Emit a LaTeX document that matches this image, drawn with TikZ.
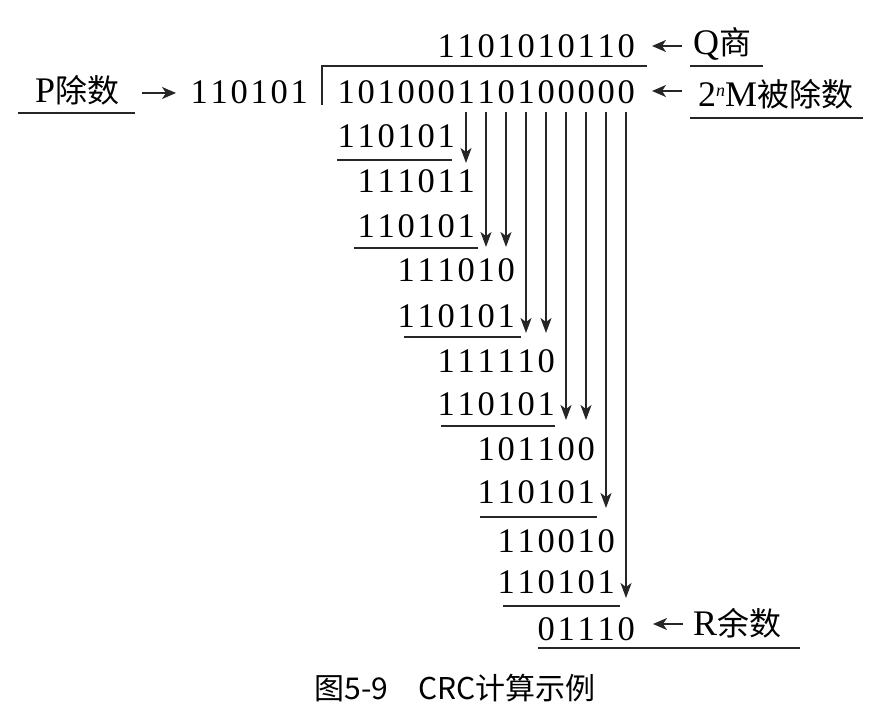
\documentclass[tikz,border=0pt]{standalone}
\usepackage{fontspec}
\setmainfont{Liberation Serif}
\newfontfamily\cjk{Noto Sans CJK SC}
\usetikzlibrary{arrows.meta}
\def\dg#1{\ifx#1\relax\else\makebox[20pt]{#1}\expandafter\dg\fi}
\newcommand\digrow[1]{\dg #1\relax}
\tikzset{
  num/.style={inner sep=0pt, anchor=base west, font=\fontsize{34.5}{34.5}\selectfont},
  lab/.style={inner sep=0pt, anchor=base west, font=\fontsize{36}{36}\selectfont},
  uline/.style={line width=1.6pt, color=black!85},
  varr/.style={line width=1.4pt, color=black!85, -{Stealth[length=15pt,width=11pt,inset=4pt]}},
  harr/.style={line width=1.8pt, color=black!85, -{Stealth[length=14pt,width=12pt,inset=4pt]}},
}
\newcommand\cj[1]{{\cjk\fontsize{32}{32}\selectfont #1}}
\begin{document}
\begin{tikzpicture}[x=1pt,y=-1pt]
\useasboundingbox (0,0) rectangle (889,719);
% quotient, dividend, divisor
\node[num] (q)  at (436,58)  {\digrow{1101010110}};
\node[num] (dd) at (336,104) {\digrow{101000110100000}};
\node[num] (dv) at (189,104) {\digrow{110101}};
% division bracket
\draw[uline] (322,105) -- (322,66) -- (647,66);
% rows
\node[num] (r1)  at (336,148) {\digrow{110101}};
\node[num] (r2)  at (356,193) {\digrow{111011}};
\node[num] (r3)  at (356,238) {\digrow{110101}};
\node[num] (r4)  at (396,282) {\digrow{111010}};
\node[num] (r5)  at (396,327) {\digrow{110101}};
\node[num] (r6)  at (436,372) {\digrow{111110}};
\node[num] (r7)  at (436,415) {\digrow{110101}};
\node[num] (r8)  at (476,460) {\digrow{101100}};
\node[num] (r9)  at (476,503) {\digrow{110101}};
\node[num] (r10) at (496,552) {\digrow{110010}};
\node[num] (r11) at (496,593) {\digrow{110101}};
\node[num] (r12) at (536,640) {\digrow{01110}};
% underlines
\draw[uline] (337,160) -- (452,160);
\draw[uline] (354,248) -- (478,248);
\draw[uline] (404,337) -- (521,337);
\draw[uline] (441,426) -- (555,426);
\draw[uline] (480,517) -- (597,517);
\draw[uline] (503,606) -- (620,606);
\draw[uline] (538,648) -- (800,648);
% vertical bring-down arrows
\foreach \k/\e in {7/163,8/247,9/247,10/333,11/333,12/420,13/420,14/508,15/598}{
  \coordinate (s\k) at ({326+20*\k},112);
  \coordinate (e\k) at ({326+20*\k},\e);
  \draw[varr] (s\k) -- (e\k);
}
% labels
\node[lab] (Q) at (693,55)  {Q\cj{商}};
\node[lab] (M) at (698,107) {2\raisebox{10pt}{\fontsize{18}{18}\selectfont\textit{n}}M\cj{被除数}};
\node[lab] (R) at (693,635) {R\cj{余数}};
\node[lab] (P) at (35,103)  {P\cj{除数}};
\draw[uline] (690,66) -- (763,66);
\draw[uline] (690,118) -- (863,118);
\draw[uline] (18,113) -- (135,113);
% short arrows
\coordinate (qa1) at (682,46);  \coordinate (qa2) at (652,46);
\coordinate (ma1) at (682,91);  \coordinate (ma2) at (652,91);
\coordinate (ra1) at (683,624); \coordinate (ra2) at (653,624);
\coordinate (pa1) at (142,93);  \coordinate (pa2) at (176,93);
\draw[harr] (qa1) -- (qa2);
\draw[harr] (ma1) -- (ma2);
\draw[harr] (ra1) -- (ra2);
\draw[harr] (pa1) -- (pa2);
% caption
\node[inner sep=0pt, anchor=base, font=\cjk\fontsize{30}{30}\selectfont] (cap) at (455,699) {图5-9\hspace{1em}CRC计算示例};
\end{tikzpicture}
\end{document}
